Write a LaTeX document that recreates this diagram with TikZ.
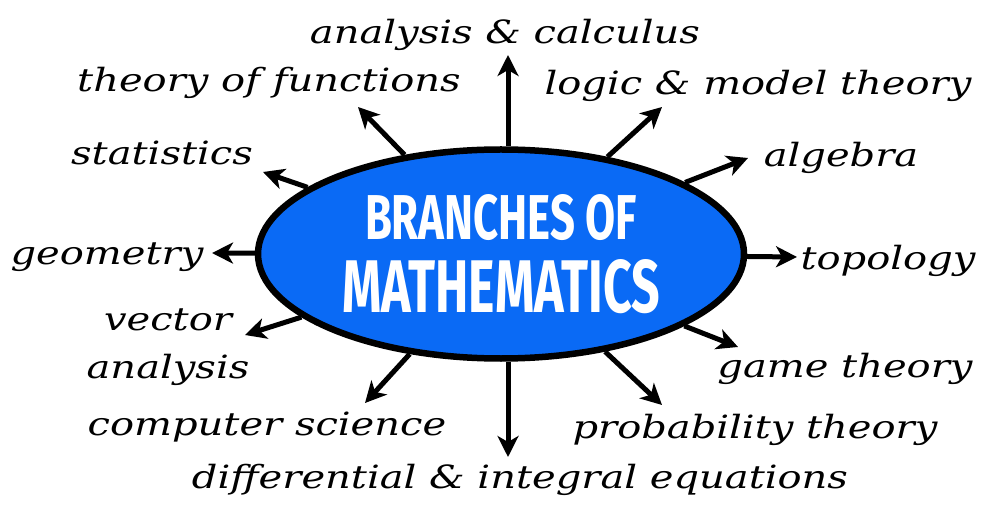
\documentclass[tikz,border=0pt]{standalone}
\usepackage{fontspec}
\usepackage{tikz}
\usetikzlibrary{shapes}
\usetikzlibrary{arrows.meta}
\newfontfamily\handfont{DejaVu Serif}[FakeStretch=1.25]
\newfontfamily\titlefont{Fira Sans}
\definecolor{hubblue}{RGB}{10,106,245}
\newcommand{\branch}[4]{\node[branchlabel] (#1) at ( #2 , #3 ) {#4};}
\newcommand{\tip}[3]{\coordinate (#1) at ( #2 , #3 );}
\tikzset{
  hub/.style={ellipse, draw=black, line width=6.5pt, fill=hubblue, text=white,
    minimum width=486pt, minimum height=209pt, inner sep=0pt, align=center,
    font=\titlefont\bfseries\fontsize{50}{73}\selectfont},
  branchlabel/.style={inner sep=0pt, anchor=base, align=center,
    font=\handfont\itshape\fontsize{32}{48}\selectfont},
  branchline/.style={line width=5pt, -{Stealth[length=21pt,width=21pt,inset=6pt]}},
}

\begin{document}
\begin{tikzpicture}[x=1pt,y=-1pt]
        \useasboundingbox (0,0) rectangle (992,510);

        % centre
        \node[hub] (hub) at (501,254) {\resizebox{272pt}{45pt}{BRANCHES OF}\\\resizebox{318pt}{53pt}{MATHEMATICS}};

        % labels, top half
        \branch{calc}{505}{44}{analysis \& calculus}
        \branch{func}{269}{92}{theory of functions}
        \branch{stat}{162}{165}{statistics}
        \branch{geom}{107}{265}{geometry}
        \branch{logic}{758}{95}{logic \& model theory}
        \branch{alg}{841}{167}{algebra}
        \branch{topo}{888}{270}{topology}

        % labels, bottom half
        \branch{vect}{168}{378}{vector\\analysis}
        \branch{comp}{267}{435}{computer science}
        \branch{diff}{520}{488}{differential \& integral equations}
        \branch{prob}{755}{438}{probability theory}
        \branch{game}{845}{377}{game theory}

        % arrow tips
        \tip{tcalc}{508}{55}
        \tip{tfunc}{358}{107}
        \tip{tstat}{263}{172}
        \tip{tgeom}{212}{253}
        \tip{tvect}{245}{335}
        \tip{tcomp}{365}{403}
        \tip{tdiff}{508}{457}
        \tip{tprob}{662}{405}
        \tip{tgame}{738}{347}
        \tip{ttopo}{797}{257}
        \tip{talg}{748}{158}
        \tip{tlogic}{662}{107}

        % arrows
        \draw[branchline] (hub.north -| tcalc) -- (tcalc);
        \draw[branchline] (hub) -- (tfunc);
        \draw[branchline] (hub) -- (tstat);
        \draw[branchline] (hub) -- (tgeom);
        \draw[branchline] (hub) -- (tvect);
        \draw[branchline] (hub) -- (tcomp);
        \draw[branchline] (hub.south -| tdiff) -- (tdiff);
        \draw[branchline] (hub) -- (tprob);
        \draw[branchline] (hub) -- (tgame);
        \draw[branchline] (hub) -- (ttopo);
        \draw[branchline] (hub) -- (talg);
        \draw[branchline] (hub) -- (tlogic);
    \end{tikzpicture}
\end{document}
